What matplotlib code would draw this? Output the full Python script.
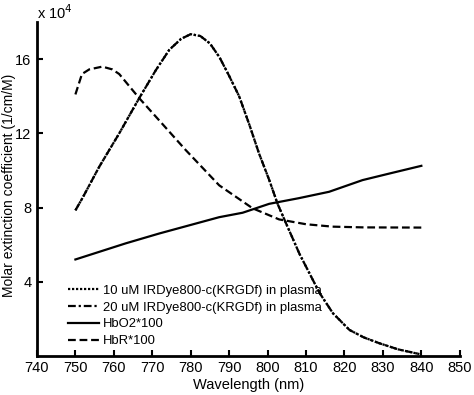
import matplotlib
matplotlib.use("Agg")
import matplotlib.pyplot as plt

plt.rcParams['font.family'] = ['Liberation Sans', 'DejaVu Sans']

# Wavelengths (nm) and values (x 10^4, 1/cm/M)
dye_wl = [750, 751.8, 756.2, 761.4, 766.6, 770.9, 774.4, 777.5, 780, 782.5, 785, 787.5,
          790, 792.6, 795.2, 797.8, 800.4, 802.6, 804.8, 808.3, 813.5, 817, 821.3, 825,
          829.1, 834, 839.5]
dye_val = [7.85, 8.5, 10.2, 12.0, 13.9, 15.4, 16.5, 17.1, 17.35, 17.25, 16.85, 16.1,
           15.1, 14.0, 12.5, 10.9, 9.5, 8.2, 7.15, 5.5, 3.4, 2.3, 1.4, 1.0,
           0.68, 0.35, 0.1]

hbo2_wl = [750, 763.1, 771.8, 787.4, 793.5, 800.4, 808, 816, 824.7, 832, 840]
hbo2_val = [5.2, 6.07, 6.6, 7.48, 7.72, 8.2, 8.5, 8.85, 9.48, 9.85, 10.25]

hbr_wl = [750, 751.7, 753.6, 757, 759.6, 761.4, 766.6, 771.8, 778.7, 787.4, 796.1, 803,
          810, 816.9, 825, 840]
hbr_val = [14.1, 15.2, 15.45, 15.6, 15.45, 15.2, 13.9, 12.7, 11.1, 9.2, 7.96, 7.36,
           7.1, 6.97, 6.93, 6.92]

labels = ['10 uM IRDye800-c(KRGDf) in plasma', '20 uM IRDye800-c(KRGDf) in plasma',
          'HbO2*100', 'HbR*100']
xticks = list(range(740, 851, 10))
yticks = [4, 8, 12, 16]

fig = plt.figure(figsize=(4.74, 3.95), dpi=100)
ax = fig.add_axes([0.078, 0.099, 0.892, 0.845])

lw = 1.6
ax.plot(dye_wl, dye_val, color='black', linestyle=(0, (1, 0.8)), linewidth=lw, label=labels[0])
ax.plot(dye_wl, dye_val, color='black', linestyle=(0, (3.5, 1.3, 1, 1.3)), linewidth=lw, label=labels[1])
ax.plot(hbo2_wl, hbo2_val, color='black', linestyle='-', linewidth=lw, label=labels[2])
ax.plot(hbr_wl, hbr_val, color='black', linestyle=(0, (3.5, 1.7)), linewidth=lw, label=labels[3])

ax.set_xlim(740, 850)
ax.set_ylim(0, 18)
ax.set_xticks(xticks)
ax.set_yticks(yticks)
ax.tick_params(direction='in', length=4, width=1.5, labelsize=10.5, pad=4)
for s in ['top', 'right']:
    ax.spines[s].set_visible(False)
for s in ['left', 'bottom']:
    ax.spines[s].set_linewidth(2)

ax.set_xlabel('Wavelength (nm)', fontsize=10.5, labelpad=2)
ax.set_ylabel('Molar extinction coefficient (1/cm/M)', fontsize=10)
ax.yaxis.set_label_coords(-0.05, 0.512)
fig.text(37 / 474, 1 - 19 / 395, r'x 10$^4$', fontsize=10.5, ha='left', va='baseline')

ax.legend(loc='lower left', bbox_to_anchor=(0.06, 0.01), frameon=False, fontsize=9.4,
          handlelength=2.4, handletextpad=0.3, labelspacing=0.36, borderaxespad=0)

fig.savefig('out.png', dpi=100)
